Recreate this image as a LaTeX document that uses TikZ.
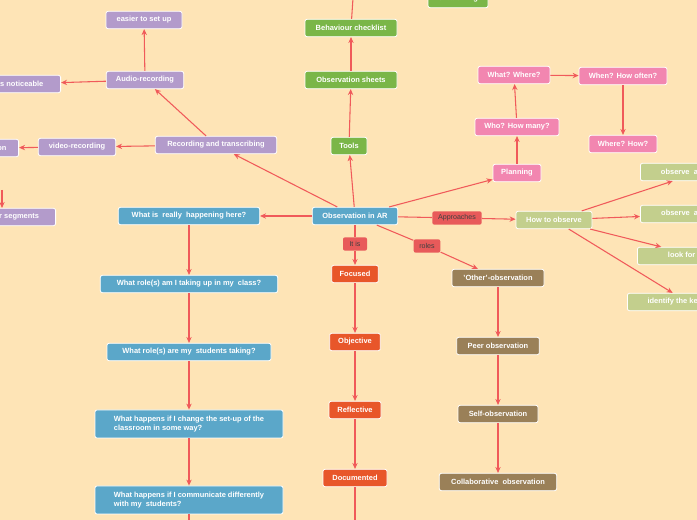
\documentclass[tikz,border=0pt]{standalone}
\usepackage{fontspec}
\setmainfont{Liberation Sans}
\usetikzlibrary{arrows.meta}
\definecolor{bg}{HTML}{FEE4B6}
\definecolor{cpur}{HTML}{B39BCB}
\definecolor{cblue}{HTML}{5BA7C9}
\definecolor{cgreen}{HTML}{7AB648}
\definecolor{clgreen}{HTML}{C3CF8D}
\definecolor{cpink}{HTML}{F286B0}
\definecolor{cbrown}{HTML}{9A8058}
\definecolor{corange}{HTML}{E8562A}
\definecolor{cred}{HTML}{E85A5A}
\definecolor{cedge}{HTML}{F05A5A}
\tikzset{
  bx/.style={draw=white, line width=0.6pt, rounded corners=1.5pt, text=white, font=\fontsize{5.6}{7}\selectfont\bfseries, minimum height=13pt, inner sep=0pt, align=center},
  lbl/.style={fill=cred, rounded corners=1.5pt, text=black!75, font=\fontsize{5.3}{6}\selectfont, minimum height=10pt, inner sep=0pt},
  ar/.style={draw=cedge, line width=0.8pt, -{Stealth[length=4.5pt,width=4pt]}},
  ln/.style={draw=cedge, line width=0.8pt},
}
\begin{document}
\begin{tikzpicture}[x=0.75pt,y=-0.75pt]
\fill[bg] (0,0) rectangle (697,520);
\useasboundingbox (0,0) rectangle (697,520);
\begin{scope}
\clip (0,0) rectangle (697,520);
% center
\node[bx,fill=cblue,minimum width=64pt] (obs) at (355,216) {Observation in AR};
% tools
\node[bx,fill=cgreen,minimum width=27pt] (tools) at (349,146) {Tools};
\node[bx,fill=cgreen,minimum width=69pt] (sheets) at (351,80) {Observation sheets};
\node[bx,fill=cgreen,minimum width=69pt] (check) at (351,28) {Behaviour checklist};
\node[bx,fill=cgreen,minimum width=45pt] (shad) at (458,-1) {Shadowing};
\coordinate (topc) at (353,-2);
% recording
\node[bx,fill=cpur,minimum width=91pt] (rec) at (216,145) {Recording and transcribing};
\node[bx,fill=cpur,minimum width=58pt] (audio) at (145,80) {Audio-recording};
\node[bx,fill=cpur,minimum width=57pt] (easy) at (144,20) {easier to set up};
\node[bx,fill=cpur,minimum width=66pt,anchor=east] (less) at (61,84) {less noticeable};
\node[bx,fill=cpur,minimum width=58pt] (video) at (77,147) {video-recording};
\node[bx,fill=cpur,minimum width=50pt,anchor=east] (ion) at (19,148) {observation};
\node[bx,fill=cpur,minimum width=78pt,anchor=east] (seg) at (56,217) {particular segments};
\coordinate (segin) at (2,190);
% questions
\node[bx,fill=cblue,minimum width=106pt] (q1) at (189,216) {What is\ \ really\ \ happening here?};
\node[bx,fill=cblue,minimum width=133pt] (q2) at (189,284) {What role(s) am I taking up in my\ \ class?};
\node[bx,fill=cblue,minimum width=123pt] (q3) at (189,352) {What role(s) are my\ \ students taking?};
\node[bx,fill=cblue,minimum width=141pt,minimum height=21pt,align=left] (q4) at (189,424) {What happens if I change the set-up of the\\classroom in some way?};
\node[bx,fill=cblue,minimum width=141pt,minimum height=21pt,align=left] (q5) at (189,500) {What happens if I communicate differently\\with my\ \ students?};
\coordinate (q5out) at (189,530);
% it is
\node[lbl,minimum width=18pt] (itis) at (355,244) {It is};
\node[bx,fill=corange,minimum width=35pt] (foc) at (355,274) {Focused};
\node[bx,fill=corange,minimum width=38pt] (objv) at (355,342) {Objective};
\node[bx,fill=corange,minimum width=39pt] (refl) at (355,410) {Reflective};
\node[bx,fill=corange,minimum width=48pt] (doc) at (355,478) {Documented};
\coordinate (docout) at (355,530);
% roles
\node[lbl,minimum width=20pt] (roles) at (427,246) {roles};
\node[bx,fill=cbrown,minimum width=69pt] (oth) at (498,278) {'Other'-observation};
\node[bx,fill=cbrown,minimum width=62pt] (peer) at (498,346) {Peer observation};
\node[bx,fill=cbrown,minimum width=60pt] (self) at (498,414) {Self-observation};
\node[bx,fill=cbrown,minimum width=88pt] (coll) at (498,482) {Collaborative\ \ observation};
% approaches
\node[lbl,minimum width=37pt] (appr) at (457,218) {Approaches};
\node[bx,fill=clgreen,minimum width=57pt] (how) at (554,220) {How to observe};
\node[bx,fill=clgreen,minimum width=90pt,anchor=west] (h1) at (640,172) {observe\ \ and describe};
\node[bx,fill=clgreen,minimum width=90pt,anchor=west] (h2) at (640,214) {observe\ \ and interpret};
\node[bx,fill=clgreen,minimum width=90pt,anchor=west] (h3) at (637,256) {look for patterns};
\node[bx,fill=clgreen,minimum width=90pt,anchor=west] (h4) at (627,302) {identify the key issues};
% planning
\node[bx,fill=cpink,minimum width=36pt] (plan) at (517,173) {Planning};
\node[bx,fill=cpink,minimum width=63pt] (who) at (517,127) {Who? How many?};
\node[bx,fill=cpink,minimum width=54pt] (what) at (514,75) {What? Where?};
\node[bx,fill=cpink,minimum width=66pt] (when) at (623,76) {When? How often?};
\node[bx,fill=cpink,minimum width=51pt] (where) at (623,144) {Where? How?};
% edges
\draw[ar] (obs) -- (tools);
\draw[ar] (tools) -- (sheets);
\draw[ar] (sheets) -- (check);
\draw[ln] (check) -- (topc);
\draw[ar] (obs) -- (rec);
\draw[ar] (rec) -- (audio);
\draw[ar] (audio) -- (easy);
\draw[ar] (audio) -- (less);
\draw[ar] (rec) -- (video);
\draw[ar] (video) -- (ion);
\draw[ar] (segin) -- (seg.north west -| segin);
\draw[ar] (obs) -- (q1);
\draw[ar] (q1) -- (q2);
\draw[ar] (q2) -- (q3);
\draw[ar] (q3) -- (q4);
\draw[ar] (q4) -- (q5);
\draw[ln] (q5) -- (q5out);
\draw[ln] (obs) -- (itis);
\draw[ar] (itis) -- (foc);
\draw[ar] (foc) -- (objv);
\draw[ar] (objv) -- (refl);
\draw[ar] (refl) -- (doc);
\draw[ln] (doc) -- (docout);
\draw[ln] (obs) -- (roles);
\draw[ar] (roles) -- (oth);
\draw[ar] (oth) -- (peer);
\draw[ar] (peer) -- (self);
\draw[ar] (self) -- (coll);
\draw[ln] (obs) -- (appr);
\draw[ar] (appr) -- (how);
\draw[ar] (how) -- (h1);
\draw[ar] (how) -- (h2);
\draw[ar] (how) -- (h3);
\draw[ar] (how) -- (h4);
\draw[ar] (obs) -- (plan);
\draw[ar] (plan) -- (who);
\draw[ar] (who) -- (what);
\draw[ar] (what) -- (when);
\draw[ar] (when) -- (where);
\end{scope}
\end{tikzpicture}
\end{document}
